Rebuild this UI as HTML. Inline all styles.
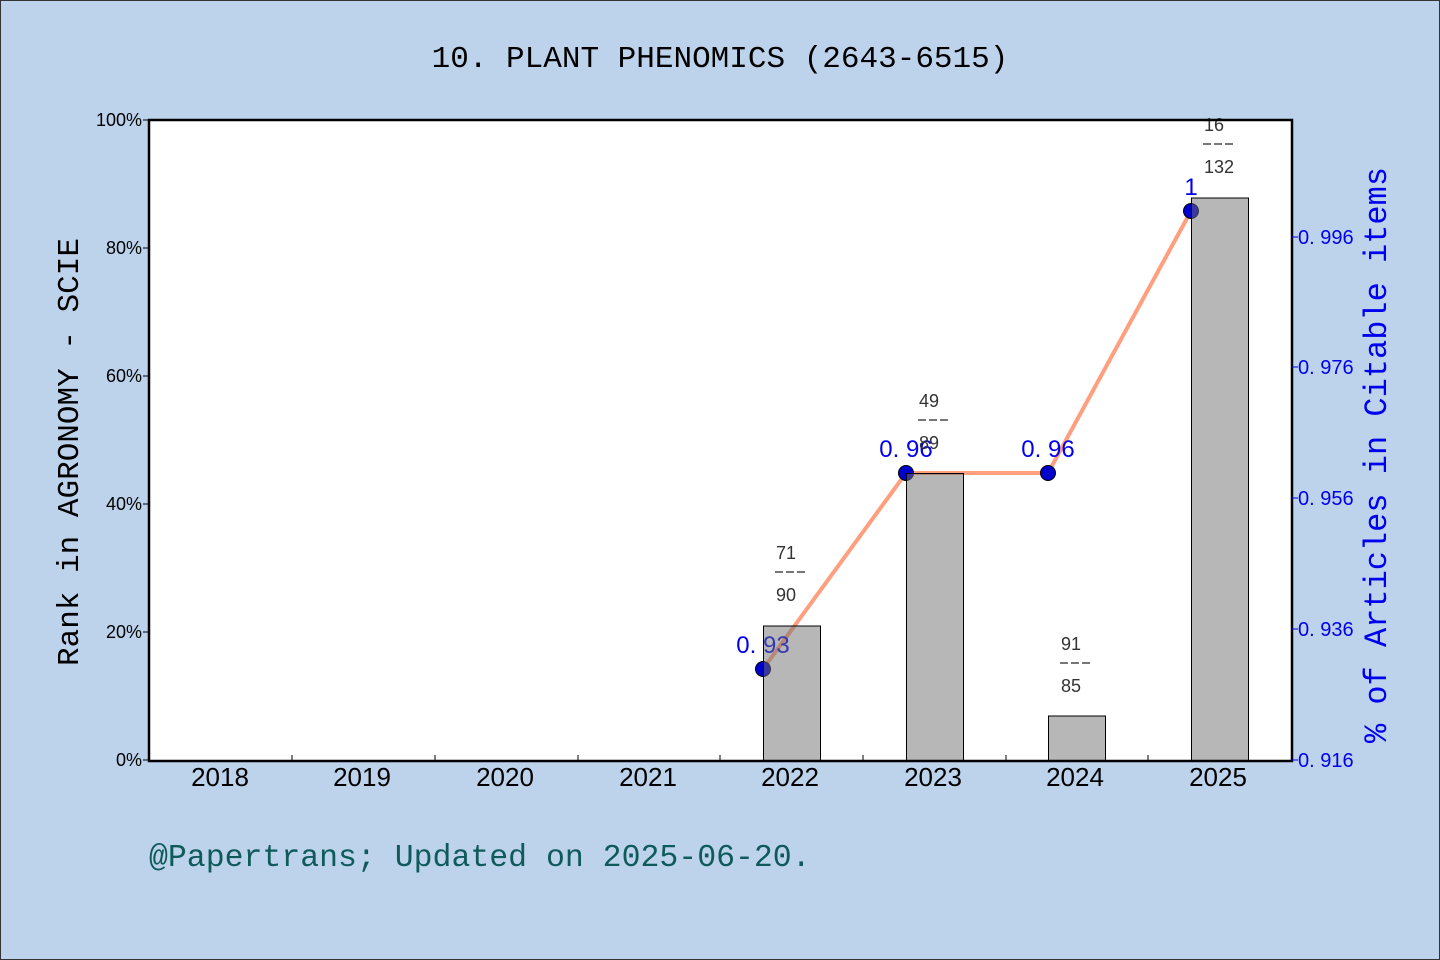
<!DOCTYPE html>
<html><head><style>
html,body{margin:0;padding:0;background:#bdd3ec;}
svg{display:block;}
.m{font-family:"Liberation Mono","DejaVu Sans Mono",monospace;}
.s{font-family:"Liberation Sans","WenQuanYi Zen Hei",sans-serif;}
</style></head><body>
<svg width="1440" height="960" viewBox="0 0 1440 960" xmlns="http://www.w3.org/2000/svg">
<rect x="0.5" y="0.5" width="1439" height="959" fill="#bdd3ec" stroke="#333" stroke-width="1"/>
<text class="m" x="720" y="67" font-size="31" text-anchor="middle" fill="#000">10. PLANT PHENOMICS (2643-6515)</text>
<rect x="149" y="120" width="1143" height="641" fill="#fff"/>
<polyline points="763,669 906,473 1048,473 1191,211" fill="none" stroke="#ff9f7f" stroke-width="4"/>
<g fill="#0000cc" stroke="#000" stroke-width="1">
<circle cx="763" cy="669" r="7.5"/><circle cx="906" cy="473" r="7.5"/><circle cx="1048" cy="473" r="7.5"/><circle cx="1191" cy="211" r="7.5"/>
</g>
<g class="s" fill="#0000ee" font-size="24" text-anchor="middle">
<text x="763" y="653">0. 93</text><text x="906" y="457">0. 96</text><text x="1048" y="457">0. 96</text><text x="1191" y="195">1</text>
</g>
<g fill="#707070" fill-opacity="0.5" stroke="#000" stroke-width="1">
<rect x="763.5" y="626" width="57" height="135"/>
<rect x="906.5" y="473.5" width="57" height="287"/>
<rect x="1048.5" y="716" width="57" height="45"/>
<rect x="1191.5" y="198" width="57" height="563"/>
</g>
<g class="s" fill="#333" font-size="18" text-anchor="middle">
<text x="786" y="559">71</text><text x="786" y="601">90</text>
<text x="929" y="407">49</text><text x="929" y="449">89</text>
<text x="1071" y="650">91</text><text x="1071" y="692">85</text>
<text x="1214" y="131">16</text><text x="1219" y="173">132</text>
</g>
<g stroke="#777" stroke-width="2" stroke-dasharray="8,3">
<line x1="775" y1="572" x2="808" y2="572"/>
<line x1="918" y1="420" x2="951" y2="420"/>
<line x1="1060" y1="663" x2="1093" y2="663"/>
<line x1="1203" y1="144" x2="1236" y2="144"/>
</g>
<rect x="149" y="120" width="1143" height="641" fill="none" stroke="#000" stroke-width="2.5"/>
<g stroke="#000" stroke-width="1">
<line x1="292" y1="761" x2="292" y2="755"/><line x1="435" y1="761" x2="435" y2="755"/><line x1="578" y1="761" x2="578" y2="755"/><line x1="720" y1="761" x2="720" y2="755"/><line x1="863" y1="761" x2="863" y2="755"/><line x1="1006" y1="761" x2="1006" y2="755"/><line x1="1148" y1="761" x2="1148" y2="755"/>
<line x1="143" y1="120" x2="149" y2="120"/><line x1="143" y1="248" x2="149" y2="248"/><line x1="143" y1="376" x2="149" y2="376"/><line x1="143" y1="504" x2="149" y2="504"/><line x1="143" y1="632" x2="149" y2="632"/><line x1="143" y1="760" x2="149" y2="760"/>
</g>
<g stroke="#0000ee" stroke-width="1">
<line x1="1292" y1="237" x2="1298" y2="237"/><line x1="1292" y1="367" x2="1298" y2="367"/><line x1="1292" y1="498" x2="1298" y2="498"/><line x1="1292" y1="629" x2="1298" y2="629"/><line x1="1292" y1="760" x2="1298" y2="760"/>
</g>
<g class="s" font-size="18" text-anchor="end" fill="#000">
<text x="142" y="126">100%</text><text x="142" y="254">80%</text><text x="142" y="382">60%</text><text x="142" y="510">40%</text><text x="142" y="638">20%</text><text x="142" y="766">0%</text>
</g>
<g class="s" font-size="20" fill="#0000ee">
<text x="1298" y="244">0. 996</text><text x="1298" y="374">0. 976</text><text x="1298" y="505">0. 956</text><text x="1298" y="636">0. 936</text><text x="1298" y="767">0. 916</text>
</g>
<g class="s" font-size="26" text-anchor="middle" fill="#000">
<text x="220" y="786">2018</text><text x="362" y="786">2019</text><text x="505" y="786">2020</text><text x="648" y="786">2021</text><text x="790" y="786">2022</text><text x="933" y="786">2023</text><text x="1075" y="786">2024</text><text x="1218" y="786">2025</text>
</g>
<text class="m" transform="translate(78,452) rotate(-90)" font-size="31" text-anchor="middle" fill="#000">Rank in AGRONOMY - SCIE</text>
<text class="m" transform="translate(1386,455) rotate(-90)" font-size="32" text-anchor="middle" fill="#0000ee">% of Articles in Citable items</text>
<text class="m" x="149" y="866" font-size="31.5" fill="#0f5a5a">@Papertrans; Updated on 2025-06-20.</text>
</svg>
</body></html>
